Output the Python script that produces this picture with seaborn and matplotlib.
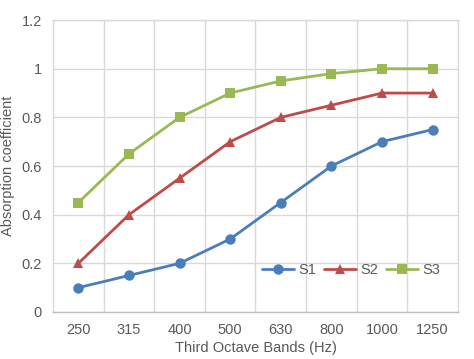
import numpy as np
import pandas as pd
import matplotlib
matplotlib.use("Agg")
import matplotlib.pyplot as plt
import seaborn as sns

bands = ["250", "315", "400", "500", "630", "800", "1000", "1250"]
s1 = [0.10, 0.15, 0.20, 0.30, 0.45, 0.60, 0.70, 0.75]
s2 = [0.20, 0.40, 0.55, 0.70, 0.80, 0.85, 0.90, 0.90]
s3 = [0.45, 0.65, 0.80, 0.90, 0.95, 0.98, 1.00, 1.00]
series = ["S1", "S2", "S3"]
colors = ["#4A7EBB", "#BE4B48", "#98B954"]
markers = ["o", "^", "s"]

df = pd.DataFrame({
    "band": bands * 3,
    "pos": list(range(len(bands))) * 3,
    "value": s1 + s2 + s3,
    "series": np.repeat(series, len(bands)),
})

sns.set_theme(style="white")
plt.rcParams["font.family"] = ["Liberation Sans", "DejaVu Sans"]
text_col = "#595959"
grid_col = "#D9D9D9"

fig, ax = plt.subplots(figsize=(4.74, 3.59), dpi=100)
fig.subplots_adjust(left=0.112, right=0.966, top=0.944, bottom=0.131)

sns.lineplot(data=df, x="pos", y="value", hue="series", style="series",
             palette=colors, markers=markers, dashes=False, linewidth=2,
             markersize=7.5, markeredgewidth=0, ax=ax)

ax.set_xlim(-0.5, len(bands) - 0.5)
ax.set_ylim(0, 1.2)
ax.set_yticks([0, 0.2, 0.4, 0.6, 0.8, 1.0, 1.2])
ax.set_yticklabels(["0", "0.2", "0.4", "0.6", "0.8", "1", "1.2"])
ax.set_xticks(range(len(bands)))
ax.set_xticklabels(bands)
ax.set_xticks(np.arange(0.5, len(bands) - 0.5, 1), minor=True)
ax.grid(False)
ax.grid(True, which="major", axis="y", color=grid_col, linewidth=1)
ax.grid(True, which="minor", axis="x", color=grid_col, linewidth=1)
ax.set_axisbelow(True)
for side, sp in ax.spines.items():
    sp.set_color(grid_col)
    sp.set_linewidth(1)
ax.spines["bottom"].set_color("#BFBFBF")
ax.tick_params(axis="both", which="both", length=0, labelsize=10.5,
               colors=text_col, pad=8)
ax.set_xlabel("Third Octave Bands (Hz)", fontsize=10.5, color=text_col, labelpad=3)
ax.set_ylabel("Absorption coefficient", fontsize=10.5, color=text_col, labelpad=5)

leg = ax.legend(loc="lower right", bbox_to_anchor=(0.97, 0.1), ncol=3,
                frameon=False, fontsize=10.5, handlelength=2.2,
                columnspacing=0.5, handletextpad=0.3, borderaxespad=0)
for t in leg.get_texts():
    t.set_color(text_col)

fig.savefig("out.png", dpi=100)
